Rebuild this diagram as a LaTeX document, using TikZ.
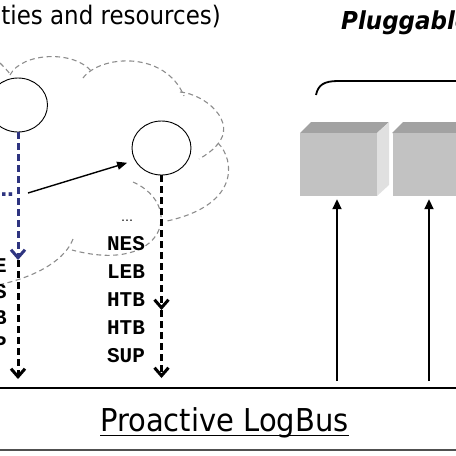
\documentclass[tikz,border=0pt]{standalone}
\usepackage{fontspec}
\setmainfont{DejaVu Sans}
\newfontfamily\monob{Liberation Mono}
\usetikzlibrary{arrows.meta,shapes.geometric}
\definecolor{navy}{RGB}{46,52,128}
\definecolor{cloudgray}{RGB}{140,140,140}
\definecolor{cubefrontc}{RGB}{194,194,194}
\definecolor{cubetopc}{RGB}{162,162,162}
\definecolor{cubesidec}{RGB}{224,224,224}
\definecolor{busgray}{RGB}{80,80,80}
\begin{document}
\begin{tikzpicture}[x=1pt,y=-1pt,
  cloudline/.style={draw=cloudgray, line width=1.1pt, dash pattern=on 5pt off 3.5pt},
  flowline/.style={line width=3pt, dash pattern=on 7pt off 4pt, -{Straight Barb[length=8pt,width=14pt]}},
  entity/.style={ellipse, draw, line width=0.9pt, minimum width=59pt, minimum height=54pt, inner sep=0pt},
  msg/.style={font=\monob\bfseries\fontsize{21}{21}\selectfont, inner sep=0pt},
  cubefront/.style={fill=cubefrontc, minimum width=77pt, minimum height=63pt, inner sep=0pt},
  uparrow/.style={line width=1.9pt, -{Triangle[length=10pt,width=9pt]}},
  sendarrow/.style={line width=1.4pt, -{Triangle[length=10pt,width=8pt]}}
]
\useasboundingbox (0,0) rectangle (456,456);
\clip (0,0) rectangle (456,456);

% titles
\node[anchor=base east, inner sep=0pt, font=\fontsize{25.5}{25}\selectfont] (title1) at (221,24) {\scalebox{0.9}[1]{ties and resources)}};
\node[anchor=base west, inner sep=0pt, font=\bfseries\itshape\fontsize{24.7}{26}\selectfont] (title2) at (341,29) {\scalebox{0.93}[1]{Pluggable}};

% cloud
\draw[cloudline] (0,63) .. controls (4,67) and (7,70) .. (10,74);
\draw[cloudline] (10,75) .. controls (22,52) and (75,50) .. (92,72);
\draw[cloudline] (83,78) .. controls (100,55) and (165,50) .. (184,96);
\draw[cloudline] (180,92) .. controls (205,94) and (238,122) .. (217,145) .. controls (212,151) and (206,155) .. (199,159);
\draw[cloudline] (218,143) .. controls (235,160) and (240,205) .. (167,221);
\draw[cloudline] (133,182) .. controls (185,205) and (165,275) .. (72,250);
\draw[cloudline] (73,239) .. controls (66,258) and (40,276) .. (-2,285);

% entities
\node[entity] (c1) at (18,105) {};
\node[entity] (c2) at (161.5,148) {};

% left column
\node[anchor=base east, inner sep=0pt, text=navy, font=\bfseries\fontsize{20}{20}\selectfont] (dl) at (14,196) {…};
\coordinate (s) at (28,193);
\draw[sendarrow, shorten >=8pt] (s) -- (c2.205);
\coordinate (m1) at (18,260);
\coordinate (b1) at (18,379);
\draw[flowline, navy] (c1.south) -- (m1);
\draw[flowline] (m1) -- (b1);
\node[msg, anchor=east] (l1) at (7,266) {E};
\node[msg, anchor=east] (l2) at (7,292) {S};
\node[msg, anchor=east] (l3) at (7,318) {B};
\node[msg, anchor=east] (l4) at (7,344) {P};

% right column
\coordinate (m2) at (161.5,310);
\coordinate (b2) at (161.5,378);
\draw[flowline] (c2.south) -- (m2);
\draw[flowline] (m2) -- (b2);
\node[anchor=base, inner sep=0pt, font=\fontsize{12}{12}\selectfont] (r0) at (127,221) {…};
\node[msg] (r1) at (126,244) {NES};
\node[msg] (r2) at (126,272) {LEB};
\node[msg] (r3) at (126,300) {HTB};
\node[msg] (r4) at (126,328) {HTB};
\node[msg] (r5) at (126,356) {SUP};

% brace
\draw[line width=1.8pt] (316,95) .. controls (318,85) and (324,81) .. (338,81) -- (460,81);

% cubes
\fill[cubetopc] (300,133) -- (311,122) -- (389,122) -- (377,133) -- cycle;
\fill[cubesidec] (377,133) -- (389,122) -- (389,185) -- (377,196) -- cycle;
\node[cubefront] (cube1) at (338.5,164.5) {};
\fill[cubetopc] (392,133) -- (403,122) -- (481,122) -- (470,133) -- cycle;
\node[cubefront] (cube2) at (431,164.5) {};

\coordinate (a1) at (337,381);
\coordinate (a2) at (429,381);
\draw[uparrow, shorten >=3pt] (a1) -- (a1 |- cube1.south);
\draw[uparrow, shorten >=3pt] (a2) -- (a2 |- cube2.south);

% bus
\draw[line width=2pt] (0,388) -- (456,388);
\draw[line width=2.5pt, busgray] (0,450) -- (456,450);
\node[anchor=base west, inner sep=0pt, font=\fontsize{31.5}{32}\selectfont] (bus) at (100,431) {\scalebox{0.92}[1]{Proactive LogBus}};
\draw[line width=1pt] ([yshift=-4pt]bus.base west) -- ([yshift=-4pt]bus.base east);
\end{tikzpicture}
\end{document}
